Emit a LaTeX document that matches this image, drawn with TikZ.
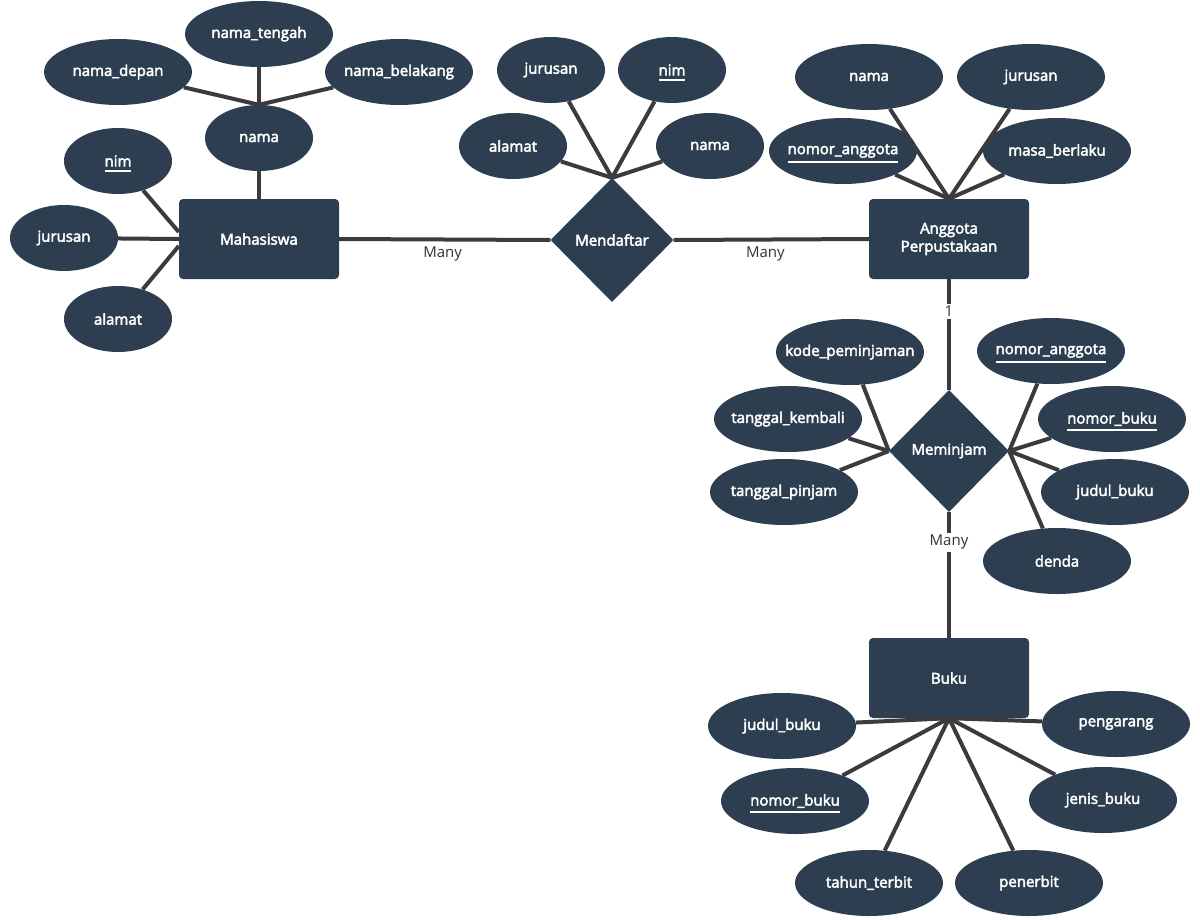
\documentclass[tikz,border=0pt]{standalone}
\usepackage{fontspec}
\setmainfont{Open Sans}
\newfontfamily\semib{Open Sans}
\newcommand\heavier{\special{pdf:literal direct 1 G 0.45 w 2 Tr}}
\usetikzlibrary{shapes.geometric}
\definecolor{boxfill}{HTML}{2C3E50}
\definecolor{linec}{HTML}{3A3A3F}
\definecolor{labc}{HTML}{333333}
\newcommand\attxt[1]{\makebox[0pt]{#1}}
\newcommand\keyul[1]{\setbox0=\hbox{#1}\rlap{\copy0}\raisebox{\dimexpr-\dp0-5pt\relax}[0pt][0pt]{\rule{\wd0}{1.8pt}}}
\tikzset{
 attr/.style={ellipse, fill=boxfill, draw=none, inner sep=0pt, minimum width=148pt, minimum height=66pt, text=white, font=\semib\fontsize{15}{18}\selectfont\heavier},
 sattr/.style={attr, minimum width=108pt},
 ent/.style={rectangle, rounded corners=4pt, fill=boxfill, minimum width=160pt, minimum height=80pt, inner sep=0pt, text=white, align=center, font=\semib\fontsize{15}{18}\selectfont\heavier},
 rel/.style={diamond, fill=boxfill, inner sep=0pt, minimum width=123pt, minimum height=124pt, text=white, font=\semib\fontsize{15}{18}\selectfont\heavier},
 conn/.style={draw=linec, line width=4pt},
 card/.style={text=labc, font=\fontsize{15}{18}\selectfont, inner sep=2pt},
}
\begin{document}
\begin{tikzpicture}[x=1pt,y=-1pt]
\fill[white] (0,0) rectangle (1200,919);
\useasboundingbox (0,0) rectangle (1200,919);
% Mahasiswa
\node[ent] (mhs) at (259,239) {Mahasiswa};
\node[sattr] (nama1) at (259,138) {\attxt{nama}};
\node[attr] (ntg) at (259,34) {\attxt{nama\_tengah}};
\node[attr] (ndp) at (118,72) {\attxt{nama\_depan}};
\node[attr] (nbl) at (399,72) {\attxt{nama\_belakang}};
\node[sattr] (nim1) at (118,161) {\attxt{\keyul{nim}}};
\node[sattr] (jur1) at (64,238) {\attxt{jurusan}};
\node[sattr] (alm1) at (118,319) {\attxt{alamat}};
% Mendaftar
\node[rel] (mdf) at (612,240) {\attxt{Mendaftar}};
\node[sattr] (jur2) at (551,70) {\attxt{jurusan}};
\node[sattr] (nim2) at (672,70) {\attxt{\keyul{nim}}};
\node[sattr] (alm2) at (513,146) {\attxt{alamat}};
\node[sattr] (nama2) at (710,146) {\attxt{nama}};
% Anggota
\node[ent] (agt) at (949,239) {Anggota\\\heavier Perpustakaan};
\node[attr] (nama3) at (869,77) {\attxt{nama}};
\node[attr] (jur3) at (1031,77) {\attxt{jurusan}};
\node[attr] (noa1) at (843,151) {\attxt{\keyul{nomor\_anggota}}};
\node[attr] (masa) at (1057,151) {\attxt{masa\_berlaku}};
% Meminjam
\node[rel, minimum width=120pt, minimum height=122pt] (mnj) at (949,451) {\attxt{Meminjam}};
\node[attr] (kode) at (850,352) {\attxt{kode\_peminjaman}};
\node[attr] (noa2) at (1051,351) {\attxt{\keyul{nomor\_anggota}}};
\node[attr] (tkb) at (788,419) {\attxt{tanggal\_kembali}};
\node[attr] (nob1) at (1112,419) {\attxt{\keyul{nomor\_buku}}};
\node[attr] (tpj) at (784,492) {\attxt{tanggal\_pinjam}};
\node[attr] (jdb1) at (1115,492) {\attxt{judul\_buku}};
\node[attr] (denda) at (1057,561) {\attxt{denda}};
% Buku
\node[ent] (buku) at (949,678) {Buku};
\node[attr] (jdb2) at (782,726) {\attxt{judul\_buku}};
\node[attr] (peng) at (1116,724) {\attxt{pengarang}};
\node[attr] (nob2) at (795,801) {\attxt{\keyul{nomor\_buku}}};
\node[attr] (jns) at (1103,800) {\attxt{jenis\_buku}};
\node[attr] (thn) at (869,883) {\attxt{tahun\_terbit}};
\node[attr] (pnb) at (1029,883) {\attxt{penerbit}};
% connectors Mahasiswa
\draw[conn] (ndp) -- (nama1.north);
\draw[conn] (ntg) -- (nama1.north);
\draw[conn] (nbl) -- (nama1.north);
\draw[conn] (nama1) -- (mhs);
\draw[conn] (nim1) -- ([yshift=7pt]mhs.west);
\draw[conn] (jur1) -- (mhs.west);
\draw[conn] (alm1) -- ([yshift=-7pt]mhs.west);
\draw[conn] (mhs.east) -- node[card, pos=0.49, yshift=-14pt]{Many} (mdf.west);
% Mendaftar
\draw[conn] (jur2) -- (mdf.north);
\draw[conn] (nim2) -- (mdf.north);
\draw[conn] (alm2) -- (mdf.north);
\draw[conn] (nama2) -- (mdf.north);
\draw[conn] (mdf.east) -- node[card, pos=0.47, yshift=-14pt]{Many} (agt.west);
% Anggota
\draw[conn] (nama3) -- (agt.north);
\draw[conn] (jur3) -- (agt.north);
\draw[conn] (noa1) -- (agt.north);
\draw[conn] (masa) -- (agt.north);
\draw[conn] (agt.south) -- node[card, fill=white, pos=0.29]{1} (mnj.north);
% Meminjam
\draw[conn] (kode) -- (mnj.west);
\draw[conn] (tkb) -- (mnj.west);
\draw[conn] (tpj) -- (mnj.west);
\draw[conn] (noa2) -- (mnj.east);
\draw[conn] (nob1) -- (mnj.east);
\draw[conn] (jdb1) -- (mnj.east);
\draw[conn] (denda) -- (mnj.east);
\draw[conn] (mnj.south) -- node[card, fill=white, pos=0.24]{Many} (buku.north);
% Buku
\draw[conn] (jdb2) -- (buku.south);
\draw[conn] (peng) -- (buku.south);
\draw[conn] (nob2) -- (buku.south);
\draw[conn] (jns) -- (buku.south);
\draw[conn] (thn) -- (buku.south);
\draw[conn] (pnb) -- (buku.south);
\end{tikzpicture}
\end{document}
